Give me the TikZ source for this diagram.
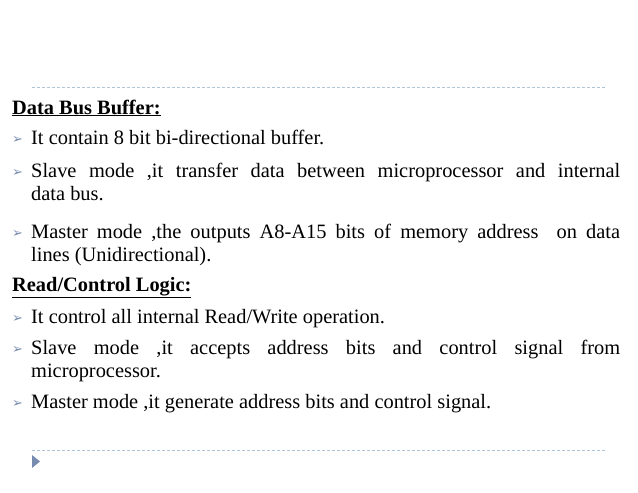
\documentclass[tikz,border=0pt]{standalone}
\usepackage{fontspec}
\setmainfont{Liberation Serif}
\newfontfamily\symfont{DejaVu Sans}
\definecolor{bul}{RGB}{120,140,175}
\definecolor{dash}{RGB}{175,195,215}
\begin{document}
\begin{tikzpicture}[x=1pt,y=-1pt,
  txt/.style={anchor=base west,inner sep=0pt,font=\fontsize{20.4}{23.5}\selectfont,text width=589pt,align=justify},
  head/.style={anchor=base west,inner sep=0pt,font=\fontsize{20.4}{23.5}\selectfont\bfseries},
  bullet/.style={anchor=base west,inner sep=0pt,text=bul,font=\symfont\fontsize{13}{13}\selectfont},
  sep/.style={draw=dash,dashed,dash pattern=on 3pt off 2pt,line width=0.8pt}]
\useasboundingbox[fill=white] (0,0) rectangle (638,493);
\coordinate (l1a) at (32,87); \coordinate (l1b) at (605,87);
\coordinate (l2a) at (32,450); \coordinate (l2b) at (605,450);
\draw[sep] (l1a) -- (l1b);
\draw[sep] (l2a) -- (l2b);
\fill[bul] (32,455) -- (40,461.5) -- (32,468) -- cycle;

\node[head] (h1) at (12,114) {\underline{Data Bus Buffer:}};
\node[bullet] (b1) at (12,143) {➢};
\node[txt] (t1) at (31,144) {It contain 8 bit bi-directional buffer.};
\node[bullet] (b2) at (12,176) {➢};
\node[txt] (t2) at (31,177) {Slave mode ,it transfer data between microprocessor and internal\linebreak data bus.};
\node[bullet] (b3) at (12,237) {➢};
\node[txt] (t3) at (31,238) {Master mode ,the outputs A8-A15 bits of memory address\ \ on data\linebreak lines (Unidirectional).};
\node[head] (h2) at (12,291) {\underline{Read/Control Logic:}};
\node[bullet] (b4) at (12,322) {➢};
\node[txt] (t4) at (31,323) {It control all internal Read/Write operation.};
\node[bullet] (b5) at (12,353) {➢};
\node[txt] (t5) at (31,354) {Slave mode ,it accepts address bits and control signal from\linebreak microprocessor.};
\node[bullet] (b6) at (12,407) {➢};
\node[txt] (t6) at (31,408) {Master mode ,it generate address bits and control signal.};
\end{tikzpicture}
\end{document}
